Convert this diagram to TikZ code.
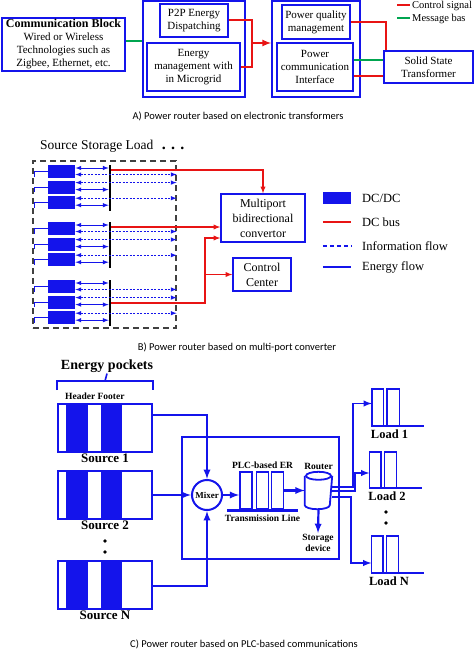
\documentclass[tikz,border=0pt]{standalone}
\usepackage{fontspec}
\setmainfont{Liberation Serif}
\newfontfamily\capfont{Carlito}
\usetikzlibrary{arrows,positioning,shapes}
\definecolor{rblue}{RGB}{20,20,235}
\definecolor{rred}{RGB}{232,20,20}
\definecolor{rgreen}{RGB}{0,165,80}
\tikzstyle{block}=[rectangle,draw=rblue,line width=1.6pt,inner sep=0pt,align=center,font=\fontsize{11}{13}\selectfont]
\tikzstyle{ctl}=[draw=rred,line width=2pt]
\tikzstyle{msg}=[draw=rgreen,line width=2pt]
\tikzstyle{dcbus}=[draw=rred,line width=1.3pt]
\tikzstyle{energy}=[draw=rblue,line width=1pt]
\tikzstyle{info}=[draw=rblue,line width=1pt,dash pattern=on 2pt off 1.5pt]
\tikzstyle{dcdc}=[rectangle,fill=rblue,minimum width=27pt,minimum height=13pt,inner sep=0pt]
\tikzstyle{pkt}=[draw=rblue,line width=2.2pt]
\tikzstyle{caption}=[font=\capfont\fontsize{10.5}{12}\selectfont]

\begin{document}
\begin{tikzpicture}[x=1pt,y=-1pt,>=latex]
	\tikzstyle{legend}=[anchor=west,inner sep=0pt,font=\fontsize{12.5}{13}\selectfont]
	\tikzstyle{tag}=[inner sep=1pt,align=center,font=\bfseries\fontsize{9.5}{11}\selectfont]
	\tikzstyle{srclabel}=[inner sep=1pt,font=\bfseries\fontsize{13}{14}\selectfont]
	\tikzstyle{source}=[draw=rblue,line width=2pt,minimum width=94pt,minimum height=48pt,inner sep=0pt]
	\tikzstyle{load}=[minimum width=27pt,minimum height=37pt,inner sep=0pt]
	\useasboundingbox (0,0) rectangle (474,650);

		\node[block,minimum width=123pt,minimum height=53pt] (comm) at (63.5,44.5) {{\bfseries\fontsize{12}{13}\selectfont Communication Block}\\Wired or Wireless\\Technologies such as\\Zigbee, Ethernet, etc.};
		\node[block,minimum width=102pt,minimum height=96pt] (ctrl) at (194,49) {};
		\node[block,minimum width=68pt,minimum height=33pt] (p2p) at (194,20.5) {P2P Energy\\Dispatching};
		\node[block,minimum width=93pt,minimum height=48pt] (ems) at (193.5,67) {Energy\\management with\\in Microgrid};
		\node[block,minimum width=88pt,minimum height=96pt] (pow) at (316,49) {};
		\node[block,minimum width=68pt,minimum height=34pt] (pqm) at (316,22) {Power quality\\management};
		\node[block,minimum width=76pt,minimum height=48pt] (pci) at (315,67) {Power\\communication\\Interface};
		\node[block,minimum width=89pt,minimum height=32pt] (sst) at (428.5,67) {Solid State\\Transformer};
		\coordinate (join) at (252,43);
		\draw[msg] ([yshift=3pt]comm.east) -- ([yshift=3pt]comm.east -| ctrl.west);
		\draw[ctl] (p2p.east) -| (join);
		\draw[ctl] (ems.east) -| (join);
		\draw[ctl,->] (join) -- (join -| pow.west);
		\draw[ctl] (pqm.east) -| ([xshift=3pt]sst.north west);
		\draw[msg] ([yshift=7pt]pci.east) -- ([yshift=7pt]pci.east -| sst.west);
		\draw[ctl] ([yshift=-9pt]pci.east) -- ([yshift=-9pt]pci.east -| sst.west);
		\node[legend,font=\fontsize{10.5}{12}\selectfont] (lgctl) at (412,5.5) {Control signal};
		\node[legend,font=\fontsize{10.5}{12}\selectfont] (lgmsg) at (412,18.5) {Message bas};
		\draw[ctl] ([xshift=-15pt]lgctl.west) -- ([xshift=-2.5pt]lgctl.west);
		\draw[msg] ([xshift=-15pt]lgmsg.west) -- ([xshift=-2.5pt]lgmsg.west);
		\node[caption] (capA) at (238,116) {A) Power router based on electronic transformers};

		\node[legend,font=\fontsize{13.5}{14}\selectfont] (ssl) at (40,146) {Source Storage Load};
		\node[anchor=base west,inner sep=0pt,font=\bfseries\fontsize{16}{16}\selectfont] (more) at ([xshift=8pt]ssl.base east) {. . .};
		\node[draw=black!75,line width=1.3pt,dash pattern=on 6pt off 4pt,minimum width=143pt,minimum height=167pt,inner sep=0pt] (grid) at (104.5,244.5) {};
		\foreach \g/\top in {1/165,2/222,3/280} {
			\node[fill=black,minimum width=2.2pt,minimum height=46pt,inner sep=0pt,anchor=north] (bus\g) at (110,\top) {};
			\foreach \r/\ya/\yb in {0/3/9.5,1/9/2,2/9/2} {
				\node[dcdc,anchor=north west] (dc\g\r) at (48,\top+15.6*\r) {};
				\draw[energy,latex-latex] ([yshift=-\ya pt]dc\g\r.north east) -- ([yshift=-\ya pt]dc\g\r.north east -| bus\g.west);
				\draw[info,latex-latex] ([yshift=-\yb pt]dc\g\r.north east) -- ([yshift=-\yb pt]dc\g\r.north east -| grid.east);
				\draw[energy] (dc\g\r.west) -- ++(-14,0) -- ++(0,5);
			}
		}
		\node[block,minimum width=84pt,minimum height=48pt,line width=1.3pt,font=\fontsize{12}{15}\selectfont] (mpc) at (263,218) {Multiport\\bidirectional\\convertor};
		\node[block,minimum width=58pt,minimum height=33pt,line width=1.3pt,font=\fontsize{12}{15}\selectfont] (ccn) at (262,274.5) {Control\\Center};
		\coordinate (riser) at (205,238);
		\draw[dcbus,->] ([yshift=-5pt]bus1.north east) -| (mpc.north);
		\draw[dcbus,->] ([yshift=-5pt]bus2.north east) -- ([yshift=-5pt]bus2.north east -| mpc.west);
		\draw[dcbus,->] ([yshift=-23pt]bus3.north east) -| (riser) -- (riser -| mpc.west);
		\draw[dcbus,->] (riser |- ccn.west) -- (ccn.west);
		\node[dcdc,minimum width=28pt,minimum height=12pt] (lgdc) at (337,198) {};
		\node[legend] (lgdct) at (362,198) {DC/DC};
		\node[legend] (lgbus) at (362,222) {DC bus};
		\node[legend] (lginfo) at (362,246) {Information flow};
		\node[legend] (lgenergy) at (362,267) {Energy flow};
		\draw[dcbus,line width=1.6pt] (lgbus.west -| lgdc.west) -- (lgbus.west -| lgdc.east);
		\draw[info,line width=1.4pt,dash pattern=on 4pt off 3pt] (lginfo.west -| lgdc.west) -- (lginfo.west -| lgdc.east);
		\draw[energy,line width=1.6pt] (lgenergy.west -| lgdc.west) -- (lgenergy.west -| lgdc.east);
		\node[caption] (capB) at (237,348) {B) Power router based on multi-port converter};

		\node[font=\bfseries\fontsize{14}{15}\selectfont,inner sep=1pt] (pockets) at (107,366) {Energy pockets};
		\foreach \s/\y/\t in {1/428/Source 1,2/495/Source 2,N/584.5/Source N} {
			\node[source] (src\s) at (105,\y) {};
			\fill[rblue] ([xshift=9pt]src\s.south west) rectangle ([xshift=31pt]src\s.north west);
			\fill[rblue] ([xshift=44pt]src\s.south west) rectangle ([xshift=65pt]src\s.north west);
			\node[srclabel,below=0pt of src\s] (lbl\s) {\t};
		}
		\draw[pkt,line width=1.6pt] ([yshift=13pt]src1.north west) -- ([yshift=22pt]src1.north west) -- ([yshift=22pt]src1.north east) -- ([yshift=13pt]src1.north east);
		\draw[pkt,line width=1.6pt] ([yshift=22pt]src1.north) -- (pockets.south);
		\node[tag,anchor=west] (hf) at (64,396) {Header Footer};
		\fill (105,541) circle (1.8pt) (105,552) circle (1.8pt);
		\fill (386,512) circle (1.8pt) (386,523) circle (1.8pt);

		\node[draw=rblue,line width=2pt,minimum width=157pt,minimum height=122pt,inner sep=0pt] (plc) at (260.5,498) {};
		\node[circle,draw=rblue,fill=white,line width=2pt,minimum size=30pt,inner sep=0pt,font=\bfseries\fontsize{9}{10}\selectfont] (mix) at (207,495) {Mixer};
		\draw[pkt,->] ([yshift=13pt]src1.east) -| (mix.north);
		\draw[pkt,->] (src2.east) -- (mix.west);
		\draw[pkt,->] ([yshift=-1.5pt]srcN.east) -| (mix.south);
		\foreach \i/\x in {1/246,2/262.5,3/277.5}
			\node[draw=rblue,line width=1.5pt,minimum width=12pt,minimum height=37pt,inner sep=0pt] (q\i) at (\x,490.5) {};
		\draw[pkt,line width=3pt] ([xshift=-12pt,yshift=-1pt]q1.south west) -- ([xshift=14pt,yshift=-1pt]q3.south east);
		\node[tag,above=1pt of q2] (plcer) {PLC-based ER};
		\node[tag,below=4pt of q2] (tline) {Transmission Line};
		\draw[pkt,->] (mix.east) -- (mix.east -| q1.west);

		\node[load] (rtr) at (318.5,490.5) {};
		\draw[pkt,line width=1.8pt] ([yshift=-4pt]rtr.north west) -- ([yshift=4pt]rtr.south west) arc[start angle=180,end angle=360,x radius=12.5pt,y radius=4pt] -- ([yshift=-4pt]rtr.north east);
		\draw[pkt,line width=1.8pt] ([yshift=-4pt]rtr.north) ellipse [x radius=12.5pt,y radius=4pt];
		\node[tag,above=1pt of rtr] (rlabel) {Router};
		\node[tag] (stor) at (318,543) {Storage\\device};
		\draw[pkt,->] (rtr.west -| q3.east) -- (rtr.west);
		\draw[pkt,->] (rtr.south) -- (stor.north);

		\node[load] (ld1) at (385.5,407.5) {};
		\node[load,minimum height=36pt] (ld2) at (383,470) {};
		\node[load] (ldN) at (385,554.5) {};
		\foreach \l/\t in {1/Load 1,2/Load 2,N/Load N} {
			\draw[rblue,line width=1.4pt] (ld\l.south west) rectangle ([xshift=11.5pt]ld\l.north west);
			\draw[rblue,line width=1.4pt] ([xshift=15pt]ld\l.south west) rectangle (ld\l.north east);
			\draw[pkt] (ld\l.south west) -- ([xshift=25pt]ld\l.south east);
			\node[srclabel,font=\bfseries\fontsize{12.5}{13}\selectfont,anchor=north] (lab\l) at ([xshift=4pt,yshift=-2pt]ld\l.south) {\t};
		}
		\draw[pkt,line width=1.8pt,->] ([yshift=3.5pt]rtr.east) -| ([xshift=-19pt,yshift=4pt]ld1.west) -- ([yshift=4pt]ld1.west);
		\draw[pkt,line width=1.8pt,->] ([yshift=-0.5pt]rtr.east) -| ([xshift=-14pt,yshift=-3pt]ld2.west) -- ([yshift=-3pt]ld2.west);
		\draw[pkt,line width=1.8pt,->] ([yshift=-6.5pt]rtr.east) -| ([xshift=-20pt,yshift=-8.5pt]ldN.west) -- ([yshift=-8.5pt]ldN.west);
		\node[caption] (capC) at (244,644) {C) Power router based on PLC-based communications};
\end{tikzpicture}
\end{document}
